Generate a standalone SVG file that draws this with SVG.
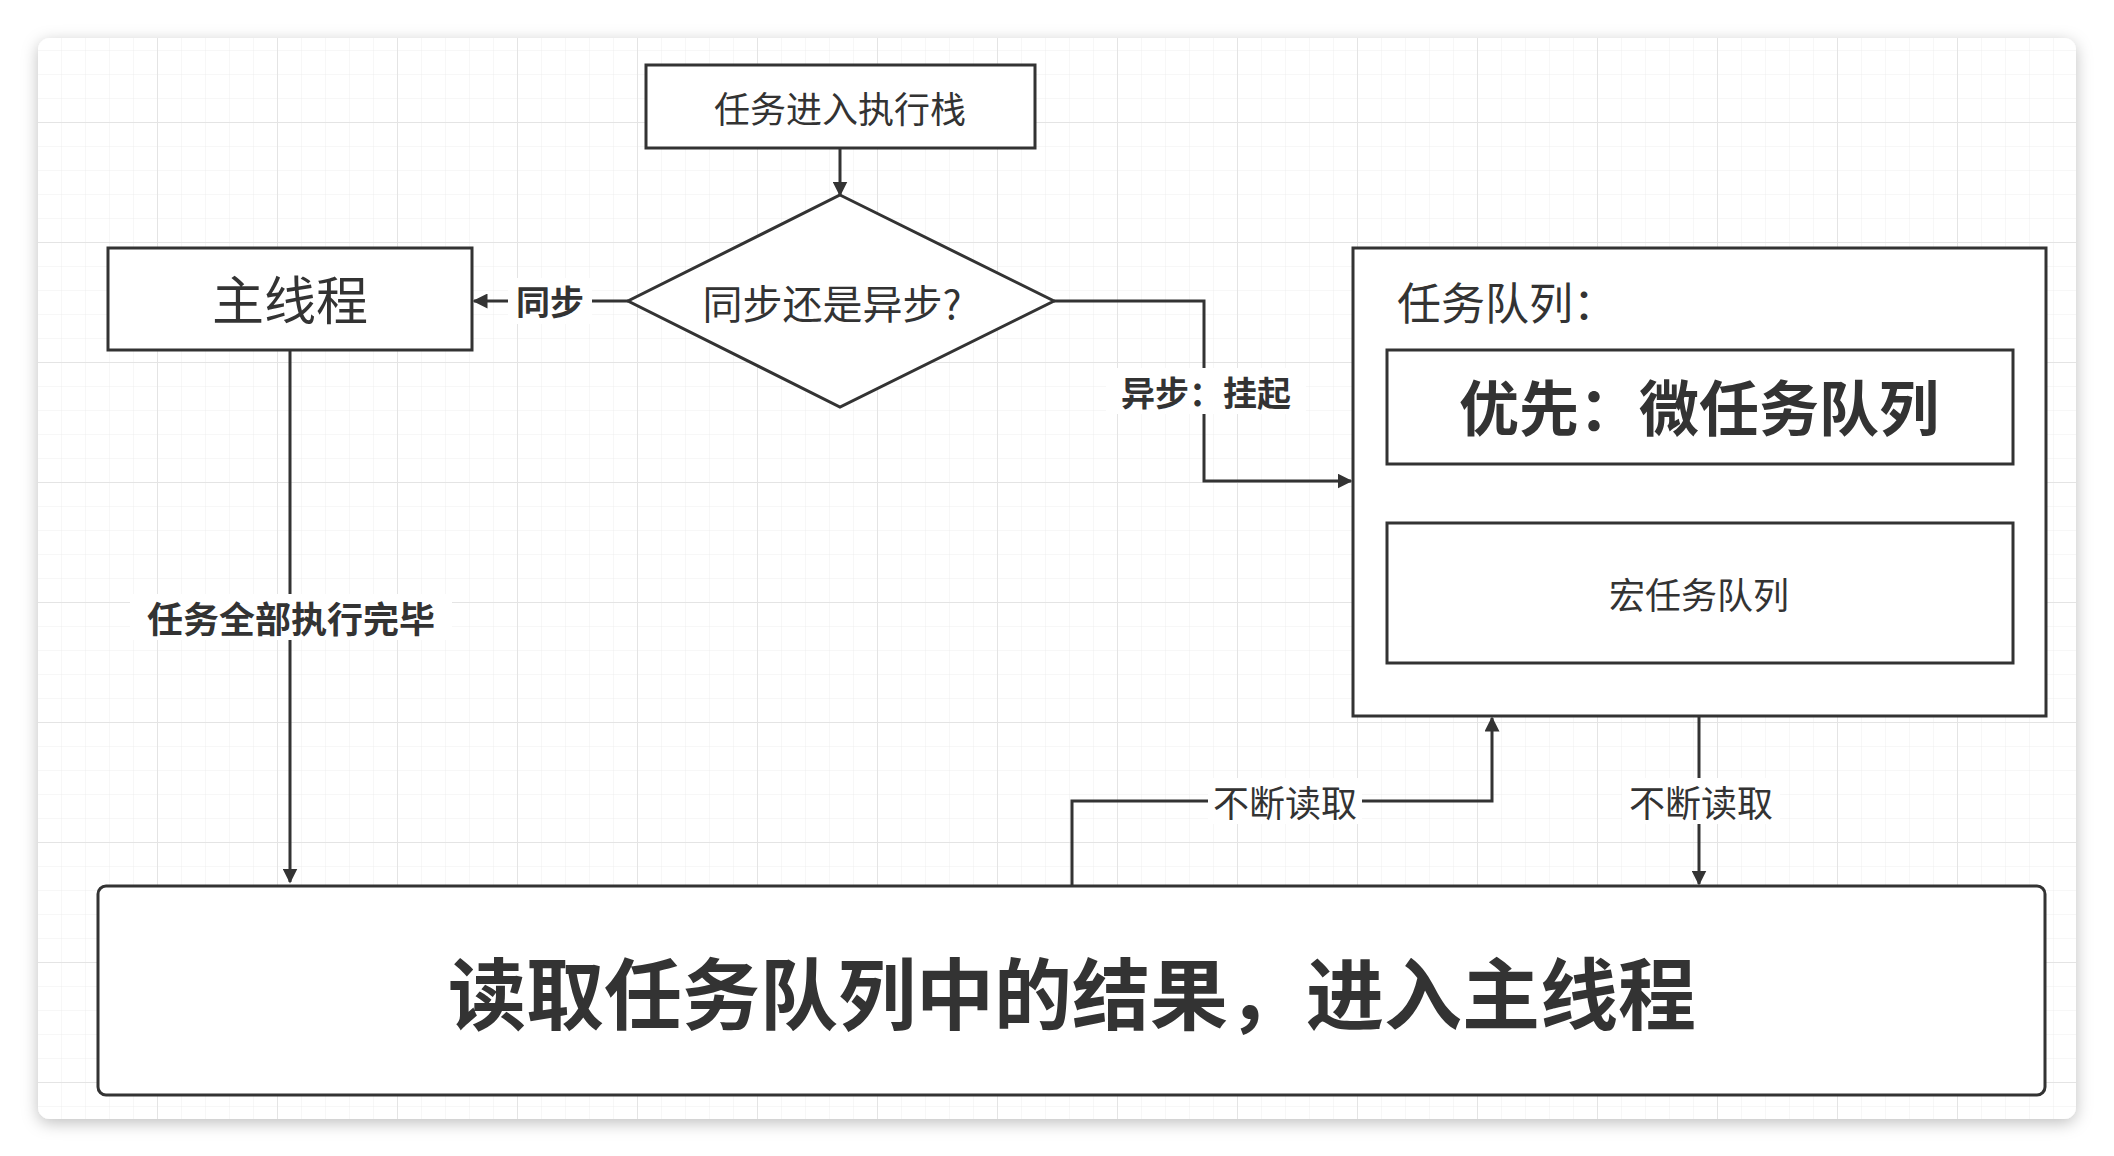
<svg xmlns="http://www.w3.org/2000/svg" width="2114" height="1156" viewBox="0 0 2114 1156">
<defs>
<pattern id="g" x="38" y="3" width="24" height="24" patternUnits="userSpaceOnUse"><path d="M24 0V24M0 24H24" fill="none" stroke="#eeeeee" stroke-width="1"/></pattern>
<pattern id="G" x="38" y="3" width="120" height="120" patternUnits="userSpaceOnUse"><path d="M120 0V120M0 120H120" fill="none" stroke="#e4e4e4" stroke-width="2"/></pattern>
<filter id="sh" x="-5%" y="-5%" width="110%" height="110%"><feDropShadow dx="0" dy="4" stdDeviation="8" flood-color="#000" flood-opacity="0.25"/></filter>
<marker id="a" viewBox="0 0 10 10" refX="9" refY="5" markerWidth="5" markerHeight="5" orient="auto"><path d="M0 0L10 5L0 10Z" fill="#333"/></marker>
</defs>
<style>
.n{fill:#fff;stroke:#333;stroke-width:3}
.c{fill:none;stroke:#333;stroke-width:3;marker-end:url(#a)}
text{font-family:"Noto Sans CJK SC",sans-serif;fill:#333;text-anchor:middle;dominant-baseline:central}
.b{font-weight:bold}
.lb{stroke:#fff;stroke-width:0}
</style>
<rect width="2114" height="1156" fill="#fff"/>
<rect x="38" y="38" width="2038" height="1081" rx="12" fill="#fff" filter="url(#sh)"/>
<rect x="38" y="38" width="2038" height="1081" fill="url(#g)"/>
<rect x="38" y="38" width="2038" height="1081" fill="url(#G)"/>
<g id="connectors">
<path class="c" d="M840 148V195"/>
<path class="c" d="M628 301H474"/>
<path class="c" d="M1054 301H1204V481H1351"/>
<path class="c" d="M1699 464V521"/>
<path class="c" d="M290 350V882"/>
<path class="c" d="M1072 886V801H1492V718"/>
<path class="c" d="M1699 716V884"/>
<rect x="508" y="278" width="84" height="46" fill="#fff"/>
<text x="550" y="300" class="b" font-size="34">同步</text>
<rect x="1106" y="368" width="200" height="46" fill="#fff"/>
<text x="1206" y="391" class="b" font-size="34">异步：挂起</text>
<rect x="130" y="594" width="322" height="46" fill="#fff"/>
<text x="291" y="617" class="b" font-size="36">任务全部执行完毕</text>
<rect x="1208" y="778" width="154" height="46" fill="#fff"/>
<text x="1285" y="801" font-size="36">不断读取</text>
<rect x="1622" y="778" width="158" height="46" fill="#fff"/>
<text x="1701" y="801" font-size="36">不断读取</text>
</g>
<g id="start"><rect class="n" x="646" y="65" width="389" height="83"/><text x="840" y="107" font-size="36">任务进入执行栈</text></g>
<g id="decision"><path class="n" d="M840 195L1054 301L840 407L628 301Z"/><text x="832" y="302" font-size="40">同步还是异步?</text></g>
<g id="main"><rect class="n" x="108" y="248" width="364" height="102"/><text x="290" y="297" font-size="52">主线程</text></g>
<g id="queue"><rect class="n" x="1353" y="248" width="693" height="468"/><text x="1397" y="301" font-size="44" style="text-anchor:start">任务队列：</text></g>
<g id="micro"><rect class="n" x="1387" y="350" width="626" height="114"/><text x="1699" y="404" class="b" font-size="60">优先：微任务队列</text></g>
<g id="macro"><rect class="n" x="1387" y="523" width="626" height="140"/><text x="1699" y="593" font-size="36">宏任务队列</text></g>
<g id="result"><rect class="n" x="98" y="886" width="1947" height="209" rx="8"/><text x="1072" y="990" class="b" font-size="78">读取任务队列中的结果，进入主线程</text></g>
</svg>
